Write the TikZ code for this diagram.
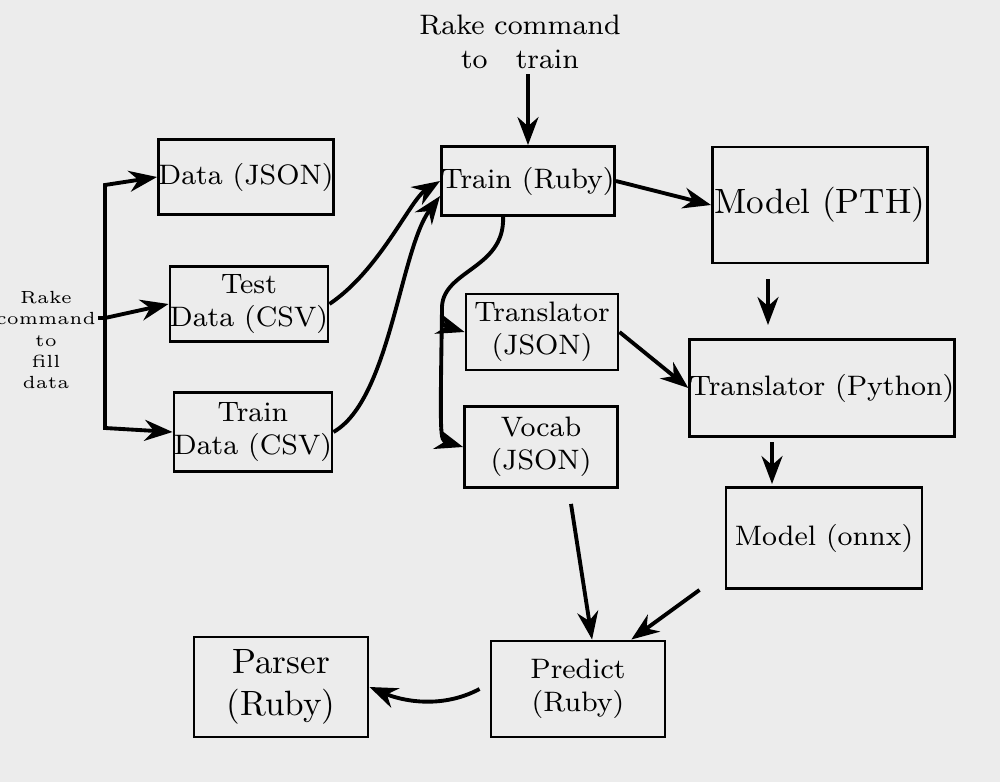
\documentclass[tikz,border=0pt]{standalone}
\usepackage{tikz}
\usetikzlibrary{arrows.meta}
\begin{document}
\begin{tikzpicture}[x=0.01cm,y=-0.01cm,line width=1.1pt,>=Stealth]
\tikzstyle{block}=[draw,thick,inner sep=0,align=center,font=\footnotesize]
\tikzstyle{note}=[align=center,font=\footnotesize,inner sep=1pt]
\fill[gray!15] (0,0) rectangle (1000,782);
\useasboundingbox (0,0) rectangle (1000,782);
% boxes
\node[block,minimum width=1.67cm,minimum height=0.75cm] (data) at (246,177) {Data (JSON)};
\node[block,minimum width=1.53cm,minimum height=0.75cm] (test) at (249,304) {Test\\ Data (CSV)};
\node[block,minimum width=1.53cm,minimum height=0.79cm] (traindata) at (253,432) {Train\\ Data (CSV)};
\node[block,minimum width=1.53cm,minimum height=0.69cm] (train) at (528,181) {Train (Ruby)};
\node[block,minimum width=2.15cm,minimum height=1.16cm,font=\normalsize] (pth) at (820,205) {Model (PTH)};
\node[block,minimum width=1.52cm,minimum height=0.76cm] (tjson) at (542,332) {Translator\\ (JSON)};
\node[block,minimum width=1.53cm,minimum height=0.81cm] (vocab) at (541,447) {Vocab\\ (JSON)};
\node[block,minimum width=2.17cm,minimum height=0.97cm] (tpy) at (822,388) {Translator (Python)};
\node[block,minimum width=1.96cm,minimum height=1.01cm] (onnx) at (824,538) {Model (onnx)};
\node[block,minimum width=1.74cm,minimum height=0.96cm] (predict) at (578,689) {Predict\\ (Ruby)};
\node[block,minimum width=1.74cm,minimum height=1.00cm,font=\normalsize] (parser) at (281,687) {Parser\\ (Ruby)};
% notes
\node[note,font=\tiny,inner sep=0] (rakefill) at (46,340) {Rake\\ command\\ to\\ fill\\ data};
\node[note] (raketrain) at (520,42) {Rake command\\ to\quad train};
% connectors
\coordinate (split) at (105,318);
\draw (rakefill.east|-split) -- (split);
\draw[->] (105,318) -- (105,185) -- (data.west);
\draw[->] (split) -- (test.west);
\draw[->] (105,318) -- (105,428) -- (traindata.west);
\draw[->] (test.east) .. controls (380,270) and (410,200) .. (train.west);
\draw[->] (traindata.east) .. controls (390,400) and (400,250) .. ([yshift=-0.15cm]train.west);
\draw[->] (raketrain.south-|train.north) -- (train.north);
\draw[->] (train.east) -- (pth.west);
\draw (train.south west) ++(63,0) coordinate (tdown) .. controls (505,270) and (440,270) .. (442,310) coordinate (fork);
\draw[->] (fork) .. controls (442,325) .. (tjson.west);
\draw[->] (fork) .. controls (440,440) .. (vocab.west);
\draw[->] (tjson.east) -- (tpy.west);
\draw[->] (pth.south-|768,0) ++(0,15) -- (768,325);
\draw[->] (772,442) -- (772,484);
\draw[->] (vocab.south) ++(30,15) -- ([xshift=4]predict.north);
\draw[->] (onnx.south west) ++(-25,0) -- ([xshift=-10]predict.north east);
\draw[->] (predict.west) ++(-10,0) .. controls (440,710) and (400,700) .. (parser.east);
\end{tikzpicture}
\end{document}
